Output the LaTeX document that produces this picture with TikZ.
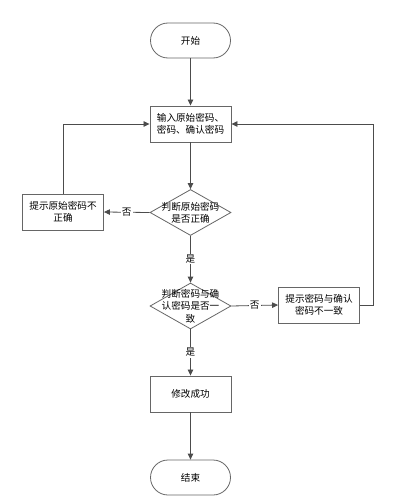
\documentclass[tikz,border=0pt]{standalone}
\usepackage{fontspec}
\newfontfamily\cjk{Noto Sans CJK SC}
\usetikzlibrary{arrows.meta,shapes.geometric}
\begin{document}
\begin{tikzpicture}[x=1pt,y=-1pt,
  every node/.style={font=\cjk\fontsize{9.6}{12}\selectfont, text=black},
  term/.style={draw=black!60, line width=0.8pt, fill=white, minimum width=80pt, minimum height=35pt, rounded corners=17.5pt, inner sep=0pt},
  proc/.style={draw=black!60, line width=0.9pt, fill=white, minimum width=81pt, minimum height=36pt, inner sep=0pt, align=center},
  dia/.style={draw=black!60, line width=0.8pt, fill=white, shape=diamond, minimum width=81pt, minimum height=46pt, inner sep=0pt, aspect=1.76},
  conn/.style={draw=black!70, line width=0.8pt, -{Triangle[length=6pt,width=5.5pt]}},
  lab/.style={fill=white, inner sep=1pt}
]
\useasboundingbox (0,0) rectangle (404,503);
\node[term] (start) at (190.5,40.5) {开始};
\node[proc] (input) at (190.5,124) {输入原始密码、\\密码、确认密码};
\node[dia, label={[align=center, font=\cjk\fontsize{9.6}{12}\selectfont]center:判断原始密码\\是否正确}] (d1) at (190.5,212.5) {};
\node[proc] (left) at (63,212) {提示原始密码不\\正确};
\node[dia, label={[align=center, font=\cjk\fontsize{9.6}{12.5}\selectfont]center:判断密码与确\\认密码是否一\\致}] (d2) at (190.5,306) {};
\node[proc] (right) at (319,305) {提示密码与确认\\密码不一致};
\node[proc] (ok) at (190.5,394) {修改成功};
\node[term] (end) at (190.5,477.5) {结束};
\coordinate (rc) at (373,124);

\draw[conn] (start) -- (input);
\draw[conn] (input) -- (d1);
\draw[conn] (d1.west) -- node[lab]{否} (left.east);
\draw[conn] (left.north) |- (input.west);
\draw[conn] (d1.south) -- node[lab]{是} (d2.north);
\draw[conn] (d2.east) -- node[lab]{否} (right.west);
\draw[conn] (right.east) -| (rc) -- (input.east);
\draw[conn] (d2.south) -- node[lab]{是} (ok.north);
\draw[conn] (ok) -- (end);
\end{tikzpicture}
\end{document}
